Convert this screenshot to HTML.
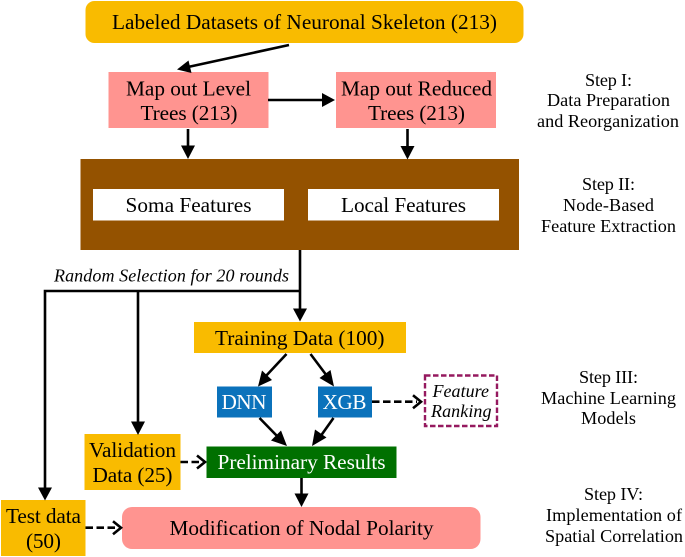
<!DOCTYPE html>
<html><head><meta charset="utf-8"><style>
html,body{margin:0;padding:0;background:#fff}
svg{display:block}
text{font-family:"Liberation Serif",serif;fill:#000}
.a{font-size:21.3px}.s{font-size:18.2px}.i{font-size:18px;font-style:italic}
.l{stroke:#000;stroke-width:2.6;fill:none}
.d{stroke:#000;stroke-width:2.6;fill:none;stroke-dasharray:7.5 3.5}
.o{stroke:#000;stroke-width:2.6;fill:none}
</style></head><body>
<svg width="685" height="557" viewBox="0 0 685 557" xmlns="http://www.w3.org/2000/svg">
<rect width="685" height="557" fill="#fff"/>
<rect x="85.500" y="1" width="438" height="42" rx="9" fill="#f9bb00"/>
<rect x="108.500" y="72" width="160" height="56" fill="#ff9490"/>
<rect x="336" y="72" width="160" height="56" fill="#ff9490"/>
<rect x="80.500" y="159" width="438.500" height="91" fill="#945200"/>
<rect x="93" y="189" width="191" height="31.500" fill="#fff"/>
<rect x="308" y="189" width="191" height="31.500" fill="#fff"/>
<rect x="194" y="322" width="212" height="31" fill="#f9bb00"/>
<rect x="217" y="386.500" width="55" height="31" fill="#0b72bb"/>
<rect x="318" y="386.500" width="54" height="31" fill="#0b72bb"/>
<rect x="425" y="375.500" width="72" height="50.500" fill="#fff" stroke="#95195f" stroke-width="2.400" stroke-dasharray="5.500 2.500"/>
<rect x="84.500" y="434" width="96" height="56" fill="#f9bb00"/>
<rect x="206.500" y="446.500" width="190" height="31.500" fill="#007000"/>
<rect x="1" y="500" width="84.500" height="56" fill="#f9bb00"/>
<rect x="122" y="507" width="358.500" height="42" rx="10" fill="#ff9490"/>

<path class="l" d="M289 45L188 67"/><path d="M177 69.500L188.500 60.500L191.500 73Z"/>
<path class="l" d="M268 100H323"/><path d="M335 100L322 93V107Z"/>
<path class="l" d="M188 129V147"/><path d="M188 159L181 145.500H195Z"/>
<path class="l" d="M407.500 129V147"/><path d="M407.500 159.500L400.500 146H414.500Z"/>
<path class="l" d="M300 250V310"/><path d="M300 321.500L293 308.500H307Z"/>
<path class="l" d="M300 291H45V489"/><path d="M45 500.500L38 487.500H52Z"/>
<path class="l" d="M138 291V423"/><path d="M138 435L131 421.500H145Z"/>
<path class="l" d="M286.500 354L265 377"/><path d="M258 386.500L262 370.500L272 380Z"/>
<path class="l" d="M310.500 354L327 376"/><path d="M334 386.500L319.500 378L330.500 370Z"/>
<path class="l" d="M259.500 418L278 437"/><path d="M287 446L271 440.500L281 430.500Z"/>
<path class="l" d="M333.500 418L320 437"/><path d="M312 446L315 429.500L326.500 437.500Z"/>
<path class="l" d="M301.500 478V495"/><path d="M301.500 507L294.500 493.500H308.500Z"/>
<path class="d" d="M372 401.700H417"/><path class="o" d="M413 395.200L421 401.700L413 408.200"/>
<path class="d" d="M180.500 462H201"/><path class="o" d="M197 455.500L205 462L197 468.500"/>
<path class="d" d="M85.500 527.700H117"/><path class="o" d="M113 521.200L121 527.700L113 534.200"/>

<text class="a" x="112" y="29" textLength="385">Labeled Datasets of Neuronal Skeleton (213)</text>
<text class="a" x="126" y="95.500" textLength="125">Map out Level</text>
<text class="a" x="140.500" y="120" textLength="97">Trees (213)</text>
<text class="a" x="341" y="95.500" textLength="151">Map out Reduced</text>
<text class="a" x="368" y="120" textLength="97">Trees (213)</text>
<text class="a" x="125.500" y="212" textLength="126">Soma Features</text>
<text class="a" x="341" y="212" textLength="125">Local Features</text>
<text class="i" x="54" y="281.500" textLength="235">Random Selection for 20 rounds</text>
<text class="a" x="215" y="345" textLength="169.500">Training Data (100)</text>
<text class="a" x="221.500" y="409" textLength="45" style="fill:#fff">DNN</text>
<text class="a" x="322.500" y="409" textLength="44" style="fill:#fff">XGB</text>
<text class="i" x="432.500" y="397" textLength="56.500">Feature</text>
<text class="i" x="431" y="417" textLength="60.500">Ranking</text>
<text class="a" x="89" y="457" textLength="87">Validation</text>
<text class="a" x="92.500" y="482" textLength="80">Data (25)</text>
<text class="a" x="217.500" y="469" textLength="168" style="fill:#fff">Preliminary Results</text>
<text class="a" x="6" y="523" textLength="75">Test data</text>
<text class="a" x="26" y="548" textLength="35">(50)</text>
<text class="a" x="169.500" y="535" textLength="264">Modification of Nodal Polarity</text>

<text class="s" x="585" y="86" textLength="47">Step I:</text>
<text class="s" x="547" y="106" textLength="123">Data Preparation</text>
<text class="s" x="537" y="127" textLength="142">and Reorganization</text>
<text class="s" x="582" y="190" textLength="53">Step II:</text>
<text class="s" x="563" y="211" textLength="91">Node-Based</text>
<text class="s" x="541" y="232" textLength="135">Feature Extraction</text>
<text class="s" x="579" y="383" textLength="59">Step III:</text>
<text class="s" x="541" y="404" textLength="135">Machine Learning</text>
<text class="s" x="581" y="424" textLength="55">Models</text>
<text class="s" x="584" y="500" textLength="59">Step IV:</text>
<text class="s" x="546" y="521" textLength="136">Implementation of</text>
<text class="s" x="545" y="542" textLength="138">Spatial Correlation</text>
</svg>
</body></html>
